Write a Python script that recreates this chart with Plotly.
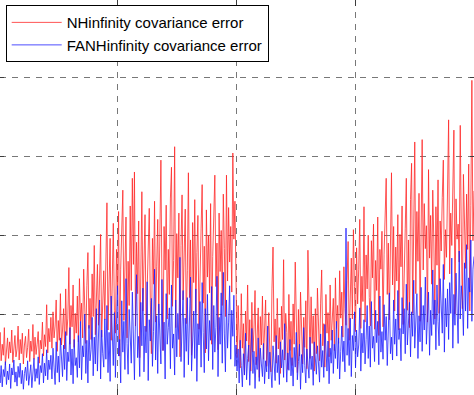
import numpy as np
import plotly.graph_objects as go

# Two covariance error series (450 samples each)
nhinf_error = [
    0.55,0.78,0.42,0.63,0.49,0.84,0.37,0.58,0.71,0.45,0.66,0.52,0.81,0.40,0.61,0.74,0.47,0.57,0.86,0.43,0.69,0.51,0.77,0.38,0.62,
    0.73,0.46,0.59,0.82,0.41,0.67,0.54,0.88,0.44,0.72,0.50,0.63,0.79,0.39,0.68,0.57,0.91,0.48,0.75,0.60,1.13,0.52,0.83,0.66,0.97,
    0.58,1.04,0.71,0.86,1.19,0.54,0.93,0.68,1.27,0.62,0.81,1.08,0.57,1.33,0.74,0.96,1.60,0.63,1.12,0.85,1.38,0.59,1.02,0.77,1.24,
    0.66,1.46,0.92,1.15,0.71,1.58,1.03,0.64,1.37,1.79,0.83,1.21,0.69,1.52,0.98,1.88,0.75,1.29,1.64,0.87,1.43,2.02,0.72,1.18,1.56,
    0.94,1.71,2.42,0.81,1.35,1.97,0.68,1.49,2.16,1.06,0.77,1.83,1.26,2.31,0.48,1.58,2.07,2.58,0.93,1.44,2.24,0.71,1.68,1.12,2.38,
    1.31,2.73,1.64,2.81,0.86,1.92,1.27,2.19,0.46,1.74,2.56,1.05,1.83,2.27,0.79,1.46,2.08,2.35,1.18,0.51,1.97,1.39,2.44,0.91,1.61,
    2.21,1.02,1.76,2.96,1.34,0.55,2.12,1.57,2.39,0.95,1.83,1.26,2.48,2.87,1.11,1.69,3.13,0.84,2.03,1.47,2.29,0.47,1.88,2.52,1.19,
    1.73,2.34,0.89,1.56,2.80,1.22,1.95,0.49,2.17,1.41,2.46,1.03,1.79,2.26,0.82,1.63,2.09,2.65,1.15,1.87,0.52,2.33,1.48,2.01,1.28,
    2.41,0.63,1.74,2.18,2.77,1.36,1.91,0.56,2.29,1.55,2.07,1.12,2.53,1.84,0.98,2.77,1.43,2.36,1.67,2.12,1.29,3.05,1.96,2.44,1.08,
    0.46,1.12,0.71,0.33,1.27,0.58,0.89,0.24,1.05,0.67,1.38,0.41,0.94,0.29,1.16,0.53,0.82,1.31,0.37,0.76,1.09,0.21,0.98,0.62,1.24,
    0.44,0.87,1.19,0.35,0.73,1.03,0.52,0.28,1.33,1.86,0.66,0.95,0.39,1.21,0.57,0.84,0.26,1.11,0.69,1.70,0.43,1.02,0.78,0.31,1.26,
    0.55,0.92,0.36,1.14,0.63,1.67,0.81,0.27,1.07,0.48,1.29,0.72,0.38,0.97,0.59,1.18,0.32,1.82,0.86,0.45,1.23,0.64,0.99,0.29,1.08,
    0.51,1.34,0.74,0.42,1.15,1.57,0.61,0.89,0.34,1.26,0.77,1.03,0.47,1.38,0.68,0.93,1.21,0.55,1.47,0.83,1.12,0.64,1.56,0.96,1.29,
    0.72,1.61,1.08,0.87,1.44,1.93,0.68,1.27,1.72,0.95,2.08,1.36,0.79,1.85,1.14,1.58,2.21,0.83,1.49,1.17,2.37,0.91,1.76,1.33,2.01,
    1.22,0.86,1.94,1.47,2.15,0.82,1.69,1.31,2.24,0.74,1.83,1.58,2.06,0.85,1.77,2.33,2.73,1.26,1.91,0.94,1.64,2.80,1.38,2.12,1.05,
    1.86,1.43,2.27,0.81,2.02,1.61,2.38,0.88,1.78,2.09,2.73,1.06,1.95,0.84,2.46,2.92,1.02,2.17,3.19,1.27,2.31,1.68,2.54,0.92,1.89,
    3.22,1.57,2.41,1.84,2.13,0.91,2.84,1.72,2.26,1.39,2.58,1.95,0.95,2.37,1.63,2.71,1.02,2.19,1.81,2.49,2.96,1.45,2.08,1.73,2.63,
    3.47,1.52,2.29,1.88,2.66,3.34,1.01,2.47,1.96,2.15,1.67,3.40,2.03,1.08,2.78,2.24,1.59,2.53,1.83,2.91,1.05,2.39,3.97,1.94,2.57,
]

fanhinf_error = [
    0.27,0.14,0.36,0.09,0.31,0.22,0.41,0.12,0.29,0.18,0.38,0.07,0.33,0.24,0.43,0.15,0.28,0.10,0.35,0.21,0.39,0.13,0.30,0.06,0.26,
    0.34,0.17,0.42,0.11,0.29,0.37,0.08,0.25,0.45,0.16,0.32,0.20,0.47,0.12,0.36,0.27,0.51,0.14,0.39,0.23,0.56,0.18,0.43,0.31,0.49,
    0.19,0.58,0.34,0.12,0.66,0.27,0.48,0.15,0.71,0.39,0.22,0.62,0.31,0.79,0.17,0.53,0.41,0.84,0.24,0.57,0.13,0.69,0.36,0.46,0.21,
    0.74,0.33,0.92,0.18,0.61,0.47,1.01,0.26,0.68,0.14,0.87,0.42,0.56,0.97,0.23,0.72,0.38,1.08,0.29,0.63,1.19,0.19,0.81,0.51,0.34,
    0.95,0.44,1.12,0.27,0.78,0.16,1.24,0.59,0.36,1.03,0.21,0.88,1.37,0.48,0.69,0.14,1.18,0.53,0.92,0.31,1.46,0.64,0.25,1.07,0.82,
    0.39,1.29,0.57,0.18,0.98,1.51,0.46,0.73,0.22,1.16,0.61,1.34,0.28,0.86,0.52,1.42,0.17,0.94,0.67,1.21,0.35,0.79,1.58,0.43,0.99,
    0.26,1.14,0.71,0.38,1.45,0.55,0.91,0.19,1.27,0.63,0.84,1.09,0.32,1.38,0.58,0.76,0.24,1.19,0.47,1.02,0.69,1.73,0.41,0.87,1.31,
    0.21,0.96,0.54,1.22,0.37,0.82,1.48,0.29,0.71,1.05,0.45,1.33,0.16,0.89,0.62,1.17,0.34,1.41,0.78,0.27,1.08,0.57,1.26,0.42,0.93,
    0.68,1.36,0.31,1.12,0.53,0.84,1.49,0.22,0.97,0.63,1.28,0.39,1.54,0.76,0.28,1.19,0.58,0.91,1.37,0.44,1.06,0.73,1.25,0.35,0.62,
    0.29,0.57,0.14,0.68,0.36,0.09,0.51,0.24,0.77,0.18,0.45,0.62,0.11,0.39,0.83,0.26,0.54,0.07,0.47,0.31,0.71,0.16,0.58,0.38,0.22,
    0.64,0.13,0.42,0.28,0.86,0.19,0.53,0.35,0.08,0.61,0.44,0.17,0.74,0.27,0.49,0.12,0.66,0.33,0.56,0.21,0.89,0.37,0.15,0.52,0.30,
    0.69,0.23,0.46,0.10,0.59,0.34,0.78,0.18,0.41,0.63,0.06,0.50,0.27,0.84,0.36,0.14,0.57,0.43,0.20,0.72,0.31,0.48,0.11,0.66,0.38,
    0.25,0.61,0.43,0.15,0.76,0.34,0.55,0.21,0.88,0.47,0.29,0.67,0.13,0.58,0.39,0.81,0.26,0.63,0.45,0.92,0.32,0.71,0.19,0.54,0.86,
    0.41,0.67,0.28,2.10,0.49,0.83,0.36,0.96,0.22,0.74,0.55,1.04,0.33,0.81,0.47,0.62,1.09,0.29,0.77,0.52,0.94,0.38,0.69,1.12,0.45,
    0.86,0.34,1.17,0.58,0.73,0.41,1.06,0.65,0.92,0.37,1.24,0.53,0.79,0.44,1.13,0.68,0.98,0.36,0.84,1.28,0.51,0.72,0.43,1.19,0.63,
    0.95,0.48,1.31,0.69,0.83,0.42,1.22,0.76,1.08,0.51,1.39,0.62,0.91,1.16,0.47,1.04,0.73,1.44,0.58,0.87,1.27,0.45,0.99,0.66,1.35,
    0.54,1.12,0.81,1.48,0.63,0.97,1.29,0.49,1.06,0.74,1.57,0.88,1.19,0.56,1.38,0.92,0.61,1.46,1.03,0.77,1.64,0.53,1.21,0.85,1.33,
    0.69,1.41,1.02,1.72,0.58,1.26,0.87,1.53,1.13,0.64,1.81,0.95,1.37,1.18,0.74,1.66,1.05,1.89,0.83,1.47,1.29,1.95,0.92,1.58,1.74,
]

series_names = ["NHinfinity covariance error", "FANHinfinity covariance error"]
series_colors = ["rgb(255,40,40)", "rgb(30,30,255)"]
n_samples = len(nhinf_error)
x_ticks_every = n_samples / 4

fig = go.Figure()
for name, vals, col in zip(series_names, [nhinf_error, fanhinf_error], series_colors):
    fig.add_trace(go.Scatter(
        x=np.arange(1, len(vals) + 1), y=vals, mode="lines", name=name,
        line=dict(color=col, width=0.8),
    ))

grid_style = dict(
    showgrid=True, gridcolor="rgb(120,120,120)", gridwidth=1, griddash="6px,6px",
    zeroline=False, showline=False, showticklabels=False,
    ticks="inside", tickcolor="rgb(60,60,60)", mirror="ticks",
)

fig.update_layout(
    width=474, height=395,
    margin=dict(l=0, r=0, t=0, b=0),
    paper_bgcolor="white", plot_bgcolor="white",
    font=dict(family="Arial, Liberation Sans, sans-serif", size=15, color="black"),
    showlegend=True,
    legend=dict(
        x=0.012, y=0.987, xanchor="left", yanchor="top",
        bgcolor="white", bordercolor="black", borderwidth=1,
        font=dict(size=15), itemwidth=50, tracegroupgap=0,
    ),
    xaxis=dict(range=[0.0168 * x_ticks_every, n_samples], dtick=x_ticks_every, tick0=0,
               ticklen=6, **grid_style),
    yaxis=dict(range=[-0.0127, 4.987], dtick=1, tick0=0, ticklen=4, **grid_style),
)

fig.write_html(
    "out.html",
    config={"displayModeBar": False},
    post_script="document.body.style.margin='0';document.body.style.overflow='hidden';",
)
